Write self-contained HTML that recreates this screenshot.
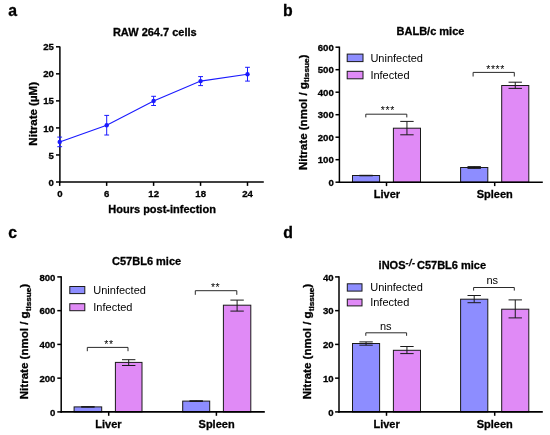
<!DOCTYPE html>
<html><head><meta charset="utf-8"><title>Figure</title>
<style>html,body{margin:0;padding:0;background:#fff;}svg{display:block}</style></head>
<body><svg width="550" height="435" viewBox="0 0 550 435">
<rect width="550" height="435" fill="#fff"/>
<text x="8.2" y="15.7" font-size="15.8" text-anchor="start" font-family="Liberation Sans, Arial, sans-serif" font-weight="bold" stroke="#000" stroke-width="0.3" >a</text>
<text x="283.0" y="15.7" font-size="15.8" text-anchor="start" font-family="Liberation Sans, Arial, sans-serif" font-weight="bold" stroke="#000" stroke-width="0.3" >b</text>
<text x="8.3" y="237.6" font-size="15.8" text-anchor="start" font-family="Liberation Sans, Arial, sans-serif" font-weight="bold" stroke="#000" stroke-width="0.3" >c</text>
<text x="283.2" y="237.6" font-size="15.8" text-anchor="start" font-family="Liberation Sans, Arial, sans-serif" font-weight="bold" stroke="#000" stroke-width="0.3" >d</text>
<line x1="59.9" y1="46.4" x2="59.9" y2="182.8" stroke="#000" stroke-width="1.5" stroke-linecap="butt"/>
<line x1="59.199999999999996" y1="182" x2="263.8" y2="182" stroke="#000" stroke-width="1.6" stroke-linecap="butt"/>
<line x1="56.0" y1="182.0" x2="59.9" y2="182.0" stroke="#000" stroke-width="1.5" stroke-linecap="butt"/>
<text x="53.9" y="185.6" font-size="9.6" text-anchor="end" font-family="Liberation Sans, Arial, sans-serif" font-weight="bold" stroke="#000" stroke-width="0.3" >0</text>
<line x1="56.0" y1="154.96" x2="59.9" y2="154.96" stroke="#000" stroke-width="1.5" stroke-linecap="butt"/>
<text x="53.9" y="158.56" font-size="9.6" text-anchor="end" font-family="Liberation Sans, Arial, sans-serif" font-weight="bold" stroke="#000" stroke-width="0.3" >5</text>
<line x1="56.0" y1="127.92" x2="59.9" y2="127.92" stroke="#000" stroke-width="1.5" stroke-linecap="butt"/>
<text x="53.9" y="131.52" font-size="9.6" text-anchor="end" font-family="Liberation Sans, Arial, sans-serif" font-weight="bold" stroke="#000" stroke-width="0.3" >10</text>
<line x1="56.0" y1="100.88" x2="59.9" y2="100.88" stroke="#000" stroke-width="1.5" stroke-linecap="butt"/>
<text x="53.9" y="104.47999999999999" font-size="9.6" text-anchor="end" font-family="Liberation Sans, Arial, sans-serif" font-weight="bold" stroke="#000" stroke-width="0.3" >15</text>
<line x1="56.0" y1="73.84" x2="59.9" y2="73.84" stroke="#000" stroke-width="1.5" stroke-linecap="butt"/>
<text x="53.9" y="77.44" font-size="9.6" text-anchor="end" font-family="Liberation Sans, Arial, sans-serif" font-weight="bold" stroke="#000" stroke-width="0.3" >20</text>
<line x1="56.0" y1="46.80000000000001" x2="59.9" y2="46.80000000000001" stroke="#000" stroke-width="1.5" stroke-linecap="butt"/>
<text x="53.9" y="50.40000000000001" font-size="9.6" text-anchor="end" font-family="Liberation Sans, Arial, sans-serif" font-weight="bold" stroke="#000" stroke-width="0.3" >25</text>
<line x1="59.7" y1="182" x2="59.7" y2="185.9" stroke="#000" stroke-width="1.5" stroke-linecap="butt"/>
<line x1="106.65" y1="182" x2="106.65" y2="185.9" stroke="#000" stroke-width="1.5" stroke-linecap="butt"/>
<line x1="153.60000000000002" y1="182" x2="153.60000000000002" y2="185.9" stroke="#000" stroke-width="1.5" stroke-linecap="butt"/>
<line x1="200.55" y1="182" x2="200.55" y2="185.9" stroke="#000" stroke-width="1.5" stroke-linecap="butt"/>
<line x1="247.5" y1="182" x2="247.5" y2="185.9" stroke="#000" stroke-width="1.5" stroke-linecap="butt"/>
<text transform="translate(37,113.8) rotate(-90) scale(1.052,1)" font-size="11" text-anchor="middle" font-family="Liberation Sans, Arial, sans-serif" font-weight="bold" stroke="#000" stroke-width="0.3">Nitrate (µM)</text>
<text x="59.8" y="197.3" font-size="9.6" text-anchor="middle" font-family="Liberation Sans, Arial, sans-serif" font-weight="bold" stroke="#000" stroke-width="0.3" >0</text>
<text x="106.75" y="197.3" font-size="9.6" text-anchor="middle" font-family="Liberation Sans, Arial, sans-serif" font-weight="bold" stroke="#000" stroke-width="0.3" >6</text>
<text x="153.7" y="197.3" font-size="9.6" text-anchor="middle" font-family="Liberation Sans, Arial, sans-serif" font-weight="bold" stroke="#000" stroke-width="0.3" >12</text>
<text x="200.65000000000003" y="197.3" font-size="9.6" text-anchor="middle" font-family="Liberation Sans, Arial, sans-serif" font-weight="bold" stroke="#000" stroke-width="0.3" >18</text>
<text x="247.60000000000002" y="197.3" font-size="9.6" text-anchor="middle" font-family="Liberation Sans, Arial, sans-serif" font-weight="bold" stroke="#000" stroke-width="0.3" >24</text>
<text x="162.1" y="213.2" font-size="11" text-anchor="middle" font-family="Liberation Sans, Arial, sans-serif" font-weight="bold" stroke="#000" stroke-width="0.3" >Hours post-infection</text>
<text x="154.8" y="35.6" font-size="11" text-anchor="middle" font-family="Liberation Sans, Arial, sans-serif" font-weight="bold" stroke="#000" stroke-width="0.3" >RAW 264.7 cells</text>
<polyline fill="none" stroke="#1a1aff" stroke-width="1.1" points="59.7,141.9 106.7,125.2 153.6,100.9 200.6,81.1 247.5,74.2"/>
<line x1="59.7" y1="137.1" x2="59.7" y2="146.70000000000002" stroke="#1a1aff" stroke-width="1" stroke-linecap="butt"/>
<line x1="57.300000000000004" y1="137.1" x2="62.1" y2="137.1" stroke="#1a1aff" stroke-width="1" stroke-linecap="butt"/>
<line x1="57.300000000000004" y1="146.70000000000002" x2="62.1" y2="146.70000000000002" stroke="#1a1aff" stroke-width="1" stroke-linecap="butt"/>
<circle cx="59.7" cy="141.9" r="2.2" fill="#1a1aff"/>
<line x1="106.7" y1="115.4" x2="106.7" y2="135.0" stroke="#1a1aff" stroke-width="1" stroke-linecap="butt"/>
<line x1="104.3" y1="115.4" x2="109.10000000000001" y2="115.4" stroke="#1a1aff" stroke-width="1" stroke-linecap="butt"/>
<line x1="104.3" y1="135.0" x2="109.10000000000001" y2="135.0" stroke="#1a1aff" stroke-width="1" stroke-linecap="butt"/>
<circle cx="106.7" cy="125.2" r="2.2" fill="#1a1aff"/>
<line x1="153.6" y1="96.30000000000001" x2="153.6" y2="105.5" stroke="#1a1aff" stroke-width="1" stroke-linecap="butt"/>
<line x1="151.2" y1="96.30000000000001" x2="156.0" y2="96.30000000000001" stroke="#1a1aff" stroke-width="1" stroke-linecap="butt"/>
<line x1="151.2" y1="105.5" x2="156.0" y2="105.5" stroke="#1a1aff" stroke-width="1" stroke-linecap="butt"/>
<circle cx="153.6" cy="100.9" r="2.2" fill="#1a1aff"/>
<line x1="200.6" y1="76.6" x2="200.6" y2="85.6" stroke="#1a1aff" stroke-width="1" stroke-linecap="butt"/>
<line x1="198.2" y1="76.6" x2="203.0" y2="76.6" stroke="#1a1aff" stroke-width="1" stroke-linecap="butt"/>
<line x1="198.2" y1="85.6" x2="203.0" y2="85.6" stroke="#1a1aff" stroke-width="1" stroke-linecap="butt"/>
<circle cx="200.6" cy="81.1" r="2.2" fill="#1a1aff"/>
<line x1="247.5" y1="67.3" x2="247.5" y2="81.10000000000001" stroke="#1a1aff" stroke-width="1" stroke-linecap="butt"/>
<line x1="245.1" y1="67.3" x2="249.9" y2="67.3" stroke="#1a1aff" stroke-width="1" stroke-linecap="butt"/>
<line x1="245.1" y1="81.10000000000001" x2="249.9" y2="81.10000000000001" stroke="#1a1aff" stroke-width="1" stroke-linecap="butt"/>
<circle cx="247.5" cy="74.2" r="2.2" fill="#1a1aff"/>
<rect x="352.5" y="175.5" width="27.100000000000023" height="6.699999999999989" fill="#8d8dff" stroke="#1a1a1a" stroke-width="1"/>
<line x1="366.05" y1="175.3" x2="366.05" y2="175.8" stroke="#1a1a1a" stroke-width="1" stroke-linecap="butt"/>
<line x1="359.35" y1="175.3" x2="372.75" y2="175.3" stroke="#1a1a1a" stroke-width="1" stroke-linecap="butt"/>
<line x1="359.35" y1="175.8" x2="372.75" y2="175.8" stroke="#1a1a1a" stroke-width="1" stroke-linecap="butt"/>
<rect x="393.4" y="128.2" width="27.100000000000023" height="54.0" fill="#e08af6" stroke="#1a1a1a" stroke-width="1"/>
<line x1="406.95" y1="121.4" x2="406.95" y2="134.8" stroke="#1a1a1a" stroke-width="1" stroke-linecap="butt"/>
<line x1="400.25" y1="121.4" x2="413.65" y2="121.4" stroke="#1a1a1a" stroke-width="1" stroke-linecap="butt"/>
<line x1="400.25" y1="134.8" x2="413.65" y2="134.8" stroke="#1a1a1a" stroke-width="1" stroke-linecap="butt"/>
<rect x="460.6" y="167.5" width="27.19999999999999" height="14.699999999999989" fill="#8d8dff" stroke="#1a1a1a" stroke-width="1"/>
<line x1="474.20000000000005" y1="166.6" x2="474.20000000000005" y2="168.4" stroke="#1a1a1a" stroke-width="1" stroke-linecap="butt"/>
<line x1="467.50000000000006" y1="166.6" x2="480.90000000000003" y2="166.6" stroke="#1a1a1a" stroke-width="1" stroke-linecap="butt"/>
<line x1="467.50000000000006" y1="168.4" x2="480.90000000000003" y2="168.4" stroke="#1a1a1a" stroke-width="1" stroke-linecap="butt"/>
<rect x="501.7" y="85.5" width="27.099999999999966" height="96.69999999999999" fill="#e08af6" stroke="#1a1a1a" stroke-width="1"/>
<line x1="515.25" y1="82.2" x2="515.25" y2="88.4" stroke="#1a1a1a" stroke-width="1" stroke-linecap="butt"/>
<line x1="508.55" y1="82.2" x2="521.95" y2="82.2" stroke="#1a1a1a" stroke-width="1" stroke-linecap="butt"/>
<line x1="508.55" y1="88.4" x2="521.95" y2="88.4" stroke="#1a1a1a" stroke-width="1" stroke-linecap="butt"/>
<line x1="339.4" y1="46.59999999999999" x2="339.4" y2="183.0" stroke="#000" stroke-width="1.5" stroke-linecap="butt"/>
<line x1="338.7" y1="182.2" x2="542.8" y2="182.2" stroke="#000" stroke-width="1.6" stroke-linecap="butt"/>
<line x1="335.5" y1="182.2" x2="339.4" y2="182.2" stroke="#000" stroke-width="1.5" stroke-linecap="butt"/>
<text x="333.8" y="185.79999999999998" font-size="9.6" text-anchor="end" font-family="Liberation Sans, Arial, sans-serif" font-weight="bold" stroke="#000" stroke-width="0.3" >0</text>
<line x1="335.5" y1="159.7" x2="339.4" y2="159.7" stroke="#000" stroke-width="1.5" stroke-linecap="butt"/>
<text x="333.8" y="163.29999999999998" font-size="9.6" text-anchor="end" font-family="Liberation Sans, Arial, sans-serif" font-weight="bold" stroke="#000" stroke-width="0.3" >100</text>
<line x1="335.5" y1="137.2" x2="339.4" y2="137.2" stroke="#000" stroke-width="1.5" stroke-linecap="butt"/>
<text x="333.8" y="140.79999999999998" font-size="9.6" text-anchor="end" font-family="Liberation Sans, Arial, sans-serif" font-weight="bold" stroke="#000" stroke-width="0.3" >200</text>
<line x1="335.5" y1="114.69999999999999" x2="339.4" y2="114.69999999999999" stroke="#000" stroke-width="1.5" stroke-linecap="butt"/>
<text x="333.8" y="118.29999999999998" font-size="9.6" text-anchor="end" font-family="Liberation Sans, Arial, sans-serif" font-weight="bold" stroke="#000" stroke-width="0.3" >300</text>
<line x1="335.5" y1="92.19999999999999" x2="339.4" y2="92.19999999999999" stroke="#000" stroke-width="1.5" stroke-linecap="butt"/>
<text x="333.8" y="95.79999999999998" font-size="9.6" text-anchor="end" font-family="Liberation Sans, Arial, sans-serif" font-weight="bold" stroke="#000" stroke-width="0.3" >400</text>
<line x1="335.5" y1="69.69999999999999" x2="339.4" y2="69.69999999999999" stroke="#000" stroke-width="1.5" stroke-linecap="butt"/>
<text x="333.8" y="73.29999999999998" font-size="9.6" text-anchor="end" font-family="Liberation Sans, Arial, sans-serif" font-weight="bold" stroke="#000" stroke-width="0.3" >500</text>
<line x1="335.5" y1="47.19999999999999" x2="339.4" y2="47.19999999999999" stroke="#000" stroke-width="1.5" stroke-linecap="butt"/>
<text x="333.8" y="50.79999999999999" font-size="9.6" text-anchor="end" font-family="Liberation Sans, Arial, sans-serif" font-weight="bold" stroke="#000" stroke-width="0.3" >600</text>
<line x1="386.5" y1="182.2" x2="386.5" y2="186.1" stroke="#000" stroke-width="1.5" stroke-linecap="butt"/>
<line x1="494.7" y1="182.2" x2="494.7" y2="186.1" stroke="#000" stroke-width="1.5" stroke-linecap="butt"/>
<text transform="translate(306.7,112.3) rotate(-90) scale(1.052,1)" font-size="11" text-anchor="middle" font-family="Liberation Sans, Arial, sans-serif" font-weight="bold" stroke="#000" stroke-width="0.3">Nitrate (nmol / g<tspan font-size="7.8" dy="2.6">tissue</tspan><tspan dy="-2.6">)</tspan></text>
<text x="386.9" y="198" font-size="11" text-anchor="middle" font-family="Liberation Sans, Arial, sans-serif" font-weight="bold" stroke="#000" stroke-width="0.3" >Liver</text>
<text x="494.8" y="198" font-size="11" text-anchor="middle" font-family="Liberation Sans, Arial, sans-serif" font-weight="bold" stroke="#000" stroke-width="0.3" >Spleen</text>
<text x="430.5" y="34.9" font-size="11" text-anchor="middle" font-family="Liberation Sans, Arial, sans-serif" font-weight="bold" stroke="#000" stroke-width="0.3" >BALB/c mice</text>
<rect x="347.2" y="54.1" width="15.800000000000011" height="7.5" fill="#8d8dff" stroke="#1a1a1a" stroke-width="1"/>
<rect x="347.2" y="71.3" width="15.800000000000011" height="7.5" fill="#e08af6" stroke="#1a1a1a" stroke-width="1"/>
<text x="370.4" y="61.6" font-size="11" text-anchor="start" font-family="Liberation Sans, Arial, sans-serif" >Uninfected</text>
<text x="370.4" y="78.5" font-size="11" text-anchor="start" font-family="Liberation Sans, Arial, sans-serif" >Infected</text>
<polyline fill="none" stroke="#2a2a2a" stroke-width="1" points="365.8,117.4 365.8,114.2 406.8,114.2 406.8,117.4"/>
<text x="387.8" y="113.8" font-size="10.5" text-anchor="middle" font-family="Liberation Sans, Arial, sans-serif" letter-spacing="0.6">***</text>
<polyline fill="none" stroke="#2a2a2a" stroke-width="1" points="473.1,76.5 473.1,72.4 514.3,72.4 514.3,76.5"/>
<text x="495.6" y="72.6" font-size="10.5" text-anchor="middle" font-family="Liberation Sans, Arial, sans-serif" letter-spacing="0.6">****</text>
<rect x="74.1" y="406.9" width="27.60000000000001" height="5.0" fill="#8d8dff" stroke="#1a1a1a" stroke-width="1"/>
<line x1="87.9" y1="406.6" x2="87.9" y2="407.2" stroke="#1a1a1a" stroke-width="1" stroke-linecap="butt"/>
<line x1="81.2" y1="406.6" x2="94.60000000000001" y2="406.6" stroke="#1a1a1a" stroke-width="1" stroke-linecap="butt"/>
<line x1="81.2" y1="407.2" x2="94.60000000000001" y2="407.2" stroke="#1a1a1a" stroke-width="1" stroke-linecap="butt"/>
<rect x="115.4" y="362.4" width="26.599999999999994" height="49.5" fill="#e08af6" stroke="#1a1a1a" stroke-width="1"/>
<line x1="128.7" y1="359.7" x2="128.7" y2="365.5" stroke="#1a1a1a" stroke-width="1" stroke-linecap="butt"/>
<line x1="121.99999999999999" y1="359.7" x2="135.39999999999998" y2="359.7" stroke="#1a1a1a" stroke-width="1" stroke-linecap="butt"/>
<line x1="121.99999999999999" y1="365.5" x2="135.39999999999998" y2="365.5" stroke="#1a1a1a" stroke-width="1" stroke-linecap="butt"/>
<rect x="182.7" y="401.1" width="27.0" height="10.799999999999955" fill="#8d8dff" stroke="#1a1a1a" stroke-width="1"/>
<line x1="196.2" y1="400.7" x2="196.2" y2="401.5" stroke="#1a1a1a" stroke-width="1" stroke-linecap="butt"/>
<line x1="189.5" y1="400.7" x2="202.89999999999998" y2="400.7" stroke="#1a1a1a" stroke-width="1" stroke-linecap="butt"/>
<line x1="189.5" y1="401.5" x2="202.89999999999998" y2="401.5" stroke="#1a1a1a" stroke-width="1" stroke-linecap="butt"/>
<rect x="223.4" y="305.2" width="27.400000000000006" height="106.69999999999999" fill="#e08af6" stroke="#1a1a1a" stroke-width="1"/>
<line x1="237.10000000000002" y1="300.1" x2="237.10000000000002" y2="311.1" stroke="#1a1a1a" stroke-width="1" stroke-linecap="butt"/>
<line x1="230.40000000000003" y1="300.1" x2="243.8" y2="300.1" stroke="#1a1a1a" stroke-width="1" stroke-linecap="butt"/>
<line x1="230.40000000000003" y1="311.1" x2="243.8" y2="311.1" stroke="#1a1a1a" stroke-width="1" stroke-linecap="butt"/>
<line x1="61.2" y1="276.29999999999995" x2="61.2" y2="412.7" stroke="#000" stroke-width="1.5" stroke-linecap="butt"/>
<line x1="60.5" y1="411.9" x2="264.8" y2="411.9" stroke="#000" stroke-width="1.6" stroke-linecap="butt"/>
<line x1="57.300000000000004" y1="411.9" x2="61.2" y2="411.9" stroke="#000" stroke-width="1.5" stroke-linecap="butt"/>
<text x="55.4" y="415.5" font-size="9.6" text-anchor="end" font-family="Liberation Sans, Arial, sans-serif" font-weight="bold" stroke="#000" stroke-width="0.3" >0</text>
<line x1="57.300000000000004" y1="378.15" x2="61.2" y2="378.15" stroke="#000" stroke-width="1.5" stroke-linecap="butt"/>
<text x="55.4" y="381.75" font-size="9.6" text-anchor="end" font-family="Liberation Sans, Arial, sans-serif" font-weight="bold" stroke="#000" stroke-width="0.3" >200</text>
<line x1="57.300000000000004" y1="344.4" x2="61.2" y2="344.4" stroke="#000" stroke-width="1.5" stroke-linecap="butt"/>
<text x="55.4" y="348.0" font-size="9.6" text-anchor="end" font-family="Liberation Sans, Arial, sans-serif" font-weight="bold" stroke="#000" stroke-width="0.3" >400</text>
<line x1="57.300000000000004" y1="310.65" x2="61.2" y2="310.65" stroke="#000" stroke-width="1.5" stroke-linecap="butt"/>
<text x="55.4" y="314.25" font-size="9.6" text-anchor="end" font-family="Liberation Sans, Arial, sans-serif" font-weight="bold" stroke="#000" stroke-width="0.3" >600</text>
<line x1="57.300000000000004" y1="276.9" x2="61.2" y2="276.9" stroke="#000" stroke-width="1.5" stroke-linecap="butt"/>
<text x="55.4" y="280.5" font-size="9.6" text-anchor="end" font-family="Liberation Sans, Arial, sans-serif" font-weight="bold" stroke="#000" stroke-width="0.3" >800</text>
<line x1="108.7" y1="411.9" x2="108.7" y2="415.79999999999995" stroke="#000" stroke-width="1.5" stroke-linecap="butt"/>
<line x1="216.4" y1="411.9" x2="216.4" y2="415.79999999999995" stroke="#000" stroke-width="1.5" stroke-linecap="butt"/>
<text transform="translate(28.2,341.5) rotate(-90) scale(1.052,1)" font-size="11" text-anchor="middle" font-family="Liberation Sans, Arial, sans-serif" font-weight="bold" stroke="#000" stroke-width="0.3">Nitrate (nmol / g<tspan font-size="7.8" dy="2.6">tissue</tspan><tspan dy="-2.6">)</tspan></text>
<text x="108.5" y="427.8" font-size="11" text-anchor="middle" font-family="Liberation Sans, Arial, sans-serif" font-weight="bold" stroke="#000" stroke-width="0.3" >Liver</text>
<text x="216.6" y="427.7" font-size="11" text-anchor="middle" font-family="Liberation Sans, Arial, sans-serif" font-weight="bold" stroke="#000" stroke-width="0.3" >Spleen</text>
<text x="146.6" y="264.8" font-size="11" text-anchor="middle" font-family="Liberation Sans, Arial, sans-serif" font-weight="bold" stroke="#000" stroke-width="0.3" >C57BL6 mice</text>
<rect x="69.8" y="286.5" width="15.0" height="7.100000000000023" fill="#8d8dff" stroke="#1a1a1a" stroke-width="1"/>
<rect x="69.8" y="303.7" width="15.0" height="7.0" fill="#e08af6" stroke="#1a1a1a" stroke-width="1"/>
<text x="93.3" y="293.8" font-size="11" text-anchor="start" font-family="Liberation Sans, Arial, sans-serif" >Uninfected</text>
<text x="93.3" y="310.6" font-size="11" text-anchor="start" font-family="Liberation Sans, Arial, sans-serif" >Infected</text>
<polyline fill="none" stroke="#2a2a2a" stroke-width="1" points="87.3,351.2 87.3,347.4 128,347.4 128,351.2"/>
<text x="109.0" y="347.6" font-size="10.5" text-anchor="middle" font-family="Liberation Sans, Arial, sans-serif" letter-spacing="0.6">**</text>
<polyline fill="none" stroke="#2a2a2a" stroke-width="1" points="195.3,294.8 195.3,290.7 236.8,290.7 236.8,294.8"/>
<text x="215.60000000000002" y="291.3" font-size="10.5" text-anchor="middle" font-family="Liberation Sans, Arial, sans-serif" letter-spacing="0.6">**</text>
<rect x="352.5" y="343.5" width="27.100000000000023" height="68.39999999999998" fill="#8d8dff" stroke="#1a1a1a" stroke-width="1"/>
<line x1="366.05" y1="341.9" x2="366.05" y2="345.2" stroke="#1a1a1a" stroke-width="1" stroke-linecap="butt"/>
<line x1="359.35" y1="341.9" x2="372.75" y2="341.9" stroke="#1a1a1a" stroke-width="1" stroke-linecap="butt"/>
<line x1="359.35" y1="345.2" x2="372.75" y2="345.2" stroke="#1a1a1a" stroke-width="1" stroke-linecap="butt"/>
<rect x="393.4" y="350.3" width="27.100000000000023" height="61.599999999999966" fill="#e08af6" stroke="#1a1a1a" stroke-width="1"/>
<line x1="406.95" y1="346.5" x2="406.95" y2="353.6" stroke="#1a1a1a" stroke-width="1" stroke-linecap="butt"/>
<line x1="400.25" y1="346.5" x2="413.65" y2="346.5" stroke="#1a1a1a" stroke-width="1" stroke-linecap="butt"/>
<line x1="400.25" y1="353.6" x2="413.65" y2="353.6" stroke="#1a1a1a" stroke-width="1" stroke-linecap="butt"/>
<rect x="460.6" y="299.2" width="27.19999999999999" height="112.69999999999999" fill="#8d8dff" stroke="#1a1a1a" stroke-width="1"/>
<line x1="474.20000000000005" y1="295.5" x2="474.20000000000005" y2="302.7" stroke="#1a1a1a" stroke-width="1" stroke-linecap="butt"/>
<line x1="467.50000000000006" y1="295.5" x2="480.90000000000003" y2="295.5" stroke="#1a1a1a" stroke-width="1" stroke-linecap="butt"/>
<line x1="467.50000000000006" y1="302.7" x2="480.90000000000003" y2="302.7" stroke="#1a1a1a" stroke-width="1" stroke-linecap="butt"/>
<rect x="501.7" y="309.2" width="27.099999999999966" height="102.69999999999999" fill="#e08af6" stroke="#1a1a1a" stroke-width="1"/>
<line x1="515.25" y1="299.9" x2="515.25" y2="317.9" stroke="#1a1a1a" stroke-width="1" stroke-linecap="butt"/>
<line x1="508.55" y1="299.9" x2="521.95" y2="299.9" stroke="#1a1a1a" stroke-width="1" stroke-linecap="butt"/>
<line x1="508.55" y1="317.9" x2="521.95" y2="317.9" stroke="#1a1a1a" stroke-width="1" stroke-linecap="butt"/>
<line x1="339.0" y1="276.29999999999995" x2="339.0" y2="412.7" stroke="#000" stroke-width="1.5" stroke-linecap="butt"/>
<line x1="338.3" y1="411.9" x2="542.8" y2="411.9" stroke="#000" stroke-width="1.6" stroke-linecap="butt"/>
<line x1="335.1" y1="411.9" x2="339.0" y2="411.9" stroke="#000" stroke-width="1.5" stroke-linecap="butt"/>
<text x="333.7" y="415.5" font-size="9.6" text-anchor="end" font-family="Liberation Sans, Arial, sans-serif" font-weight="bold" stroke="#000" stroke-width="0.3" >0</text>
<line x1="335.1" y1="378.15" x2="339.0" y2="378.15" stroke="#000" stroke-width="1.5" stroke-linecap="butt"/>
<text x="333.7" y="381.75" font-size="9.6" text-anchor="end" font-family="Liberation Sans, Arial, sans-serif" font-weight="bold" stroke="#000" stroke-width="0.3" >10</text>
<line x1="335.1" y1="344.4" x2="339.0" y2="344.4" stroke="#000" stroke-width="1.5" stroke-linecap="butt"/>
<text x="333.7" y="348.0" font-size="9.6" text-anchor="end" font-family="Liberation Sans, Arial, sans-serif" font-weight="bold" stroke="#000" stroke-width="0.3" >20</text>
<line x1="335.1" y1="310.65" x2="339.0" y2="310.65" stroke="#000" stroke-width="1.5" stroke-linecap="butt"/>
<text x="333.7" y="314.25" font-size="9.6" text-anchor="end" font-family="Liberation Sans, Arial, sans-serif" font-weight="bold" stroke="#000" stroke-width="0.3" >30</text>
<line x1="335.1" y1="276.9" x2="339.0" y2="276.9" stroke="#000" stroke-width="1.5" stroke-linecap="butt"/>
<text x="333.7" y="280.5" font-size="9.6" text-anchor="end" font-family="Liberation Sans, Arial, sans-serif" font-weight="bold" stroke="#000" stroke-width="0.3" >40</text>
<line x1="386.5" y1="411.9" x2="386.5" y2="415.79999999999995" stroke="#000" stroke-width="1.5" stroke-linecap="butt"/>
<line x1="494.7" y1="411.9" x2="494.7" y2="415.79999999999995" stroke="#000" stroke-width="1.5" stroke-linecap="butt"/>
<text transform="translate(311.3,341.5) rotate(-90) scale(1.052,1)" font-size="11" text-anchor="middle" font-family="Liberation Sans, Arial, sans-serif" font-weight="bold" stroke="#000" stroke-width="0.3">Nitrate (nmol / g<tspan font-size="7.8" dy="2.6">tissue</tspan><tspan dy="-2.6">)</tspan></text>
<text x="386.6" y="427.8" font-size="11" text-anchor="middle" font-family="Liberation Sans, Arial, sans-serif" font-weight="bold" stroke="#000" stroke-width="0.3" >Liver</text>
<text x="494.8" y="427.7" font-size="11" text-anchor="middle" font-family="Liberation Sans, Arial, sans-serif" font-weight="bold" stroke="#000" stroke-width="0.3" >Spleen</text>
<text x="378.6" y="268.5" font-size="11" text-anchor="start" font-family="Liberation Sans, Arial, sans-serif" font-weight="bold" stroke="#000" stroke-width="0.3" >iNOS</text>
<text x="405.4" y="265.7" font-size="9" text-anchor="start" font-family="Liberation Sans, Arial, sans-serif" font-weight="bold" stroke="#000" stroke-width="0.3" font-style="italic" letter-spacing="0.6">-/-</text>
<text x="417" y="268.5" font-size="11" text-anchor="start" font-family="Liberation Sans, Arial, sans-serif" font-weight="bold" stroke="#000" stroke-width="0.3" >C57BL6 mice</text>
<rect x="347.3" y="283.8" width="14.699999999999989" height="7.300000000000011" fill="#8d8dff" stroke="#1a1a1a" stroke-width="1"/>
<rect x="347.3" y="299.1" width="14.699999999999989" height="6.7999999999999545" fill="#e08af6" stroke="#1a1a1a" stroke-width="1"/>
<text x="370.2" y="290.6" font-size="11" text-anchor="start" font-family="Liberation Sans, Arial, sans-serif" >Uninfected</text>
<text x="370.2" y="306" font-size="11" text-anchor="start" font-family="Liberation Sans, Arial, sans-serif" >Infected</text>
<polyline fill="none" stroke="#2a2a2a" stroke-width="1" points="365.8,335.8 365.8,332.8 406.6,332.8 406.6,335.8"/>
<text x="385.7" y="330" font-size="11" text-anchor="middle" font-family="Liberation Sans, Arial, sans-serif" >ns</text>
<polyline fill="none" stroke="#2a2a2a" stroke-width="1" points="473.6,290.6 473.6,287.5 514.3,287.5 514.3,290.6"/>
<text x="492.3" y="284.2" font-size="11" text-anchor="middle" font-family="Liberation Sans, Arial, sans-serif" >ns</text>
</svg></body></html>
